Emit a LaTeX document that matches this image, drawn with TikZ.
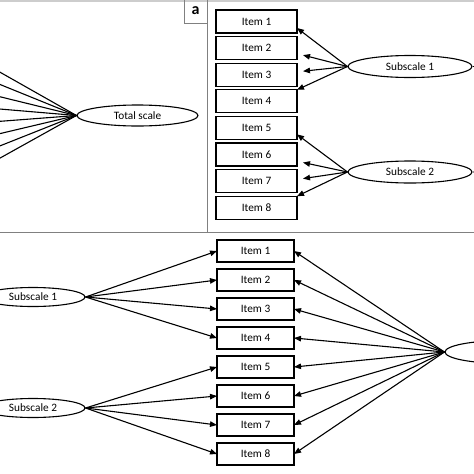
\documentclass[tikz,border=0pt]{standalone}
\usepackage{fontspec}
\setmainfont{Carlito}
\usepackage{xcolor}
\usepackage{tikz}
\usetikzlibrary{positioning, shapes.geometric, arrows.meta}
\definecolor{framegray}{RGB}{128,128,128}
\definecolor{edgegray}{RGB}{205,205,205}

\begin{document}
\begin{tikzpicture}[
  x=1pt, y=-1pt,
  every node/.style={font=\fontsize{11.3}{13}\selectfont},
  item/.style={rectangle, draw, line width=1.1pt, inner sep=0pt, outer sep=0pt,
               minimum width=81pt, minimum height=23pt},
  bitem/.style={item, minimum width=77pt, minimum height=22pt},
  factor/.style={ellipse, draw, line width=1.1pt, inner sep=0pt},
  load/.style={-{Triangle[length=7pt, width=5.5pt]}, line width=1.1pt}
]
  \useasboundingbox (0,0) rectangle (474,474);
  \clip (0,0) rectangle (474,474);

  % frame of the panels
  \draw[edgegray, line width=2pt] (0,1) -- (474,1);
  \draw[framegray, line width=0.8pt] (207,0) -- (207,232);
  \draw[framegray, line width=0.8pt] (0,232) -- (474,232);
  \node[draw=framegray, line width=0.8pt, inner sep=0pt, minimum width=23pt,
        minimum height=24pt, font=\fontsize{16}{18}\selectfont\bfseries]
        (lab) at (195.5,11) {a};

  % top left: one factor
  \node[factor, minimum width=121pt, minimum height=21pt] (tot) at (137.5,115.5) {Total scale};
  \coordinate (l1) at (-30,55.2);
  \coordinate (l2) at (-30,72.3);
  \coordinate (l3) at (-30,89.4);
  \coordinate (l4) at (-30,106.5);
  \coordinate (l5) at (-30,123.6);
  \coordinate (l6) at (-30,140.7);
  \coordinate (l7) at (-30,157.8);
  \coordinate (l8) at (-30,174.8);
  \draw[load] (tot.west) -- (l1);
  \draw[load] (tot.west) -- (l2);
  \draw[load] (tot.west) -- (l3);
  \draw[load] (tot.west) -- (l4);
  \draw[load] (tot.west) -- (l5);
  \draw[load] (tot.west) -- (l6);
  \draw[load] (tot.west) -- (l7);
  \draw[load] (tot.west) -- (l8);

  % top right: two subscales
  \node[item] (t1) at (256.5,21.5) {Item 1};
  \node[item, below=3.6pt of t1] (t2) {Item 2};
  \node[item, below=3.6pt of t2] (t3) {Item 3};
  \node[item, below=3.6pt of t3] (t4) {Item 4};
  \node[item, below=3.6pt of t4] (t5) {Item 5};
  \node[item, below=3.6pt of t5] (t6) {Item 6};
  \node[item, below=3.6pt of t6] (t7) {Item 7};
  \node[item, below=3.6pt of t7] (t8) {Item 8};

  \node[factor, minimum width=124pt, minimum height=22pt] (s1) at (410,66.5) {Subscale 1};
  \node[factor, minimum width=124pt, minimum height=22pt] (s2) at (410,172) {Subscale 2};

  \draw[load] (s1.west) -- ([yshift=5pt]t1.south east);
  \draw[load] (s1.west) -- ([shift={(6pt,-7pt)}]t2.east);
  \draw[load] (s1.west) -- ([shift={(6pt,3.5pt)}]t3.east);
  \draw[load] (s1.west) -- (t4.north east);
  \draw[load] (s2.west) -- ([yshift=5pt]t5.south east);
  \draw[load] (s2.west) -- ([shift={(6pt,-8pt)}]t6.east);
  \draw[load] (s2.west) -- ([shift={(6pt,2.5pt)}]t7.east);
  \draw[load] (s2.west) -- (t8.north east);

  \coordinate (h1) at (495,66.5);
  \coordinate (h2) at (495,172);
  \draw[load] (h1) -- (s1.east);
  \draw[load] (h2) -- (s2.east);

  % bottom: subscales and total scale together
  \node[bitem] (b1) at (255.5,251) {Item 1};
  \node[bitem, below=7pt of b1] (b2) {Item 2};
  \node[bitem, below=7pt of b2] (b3) {Item 3};
  \node[bitem, below=7pt of b3] (b4) {Item 4};
  \node[bitem, below=7pt of b4] (b5) {Item 5};
  \node[bitem, below=7pt of b5] (b6) {Item 6};
  \node[bitem, below=7pt of b6] (b7) {Item 7};
  \node[bitem, below=7pt of b7] (b8) {Item 8};

  \node[factor, minimum width=104pt, minimum height=19pt] (bs1) at (33,297) {Subscale 1};
  \node[factor, minimum width=104pt, minimum height=19pt] (bs2) at (33,408) {Subscale 2};
  \node[factor, minimum width=120pt, minimum height=23pt] (btot) at (505,352) {};

  \draw[load] (bs1.east) -- (b1.west);
  \draw[load] (bs1.east) -- (b2.west);
  \draw[load] (bs1.east) -- (b3.west);
  \draw[load] (bs1.east) -- (b4.west);
  \draw[load] (bs2.east) -- (b5.west);
  \draw[load] (bs2.east) -- (b6.west);
  \draw[load] (bs2.east) -- (b7.west);
  \draw[load] (bs2.east) -- (b8.west);

  \draw[load] (btot.west) -- (b1.east);
  \draw[load] (btot.west) -- (b2.east);
  \draw[load] (btot.west) -- (b3.east);
  \draw[load] (btot.west) -- (b4.east);
  \draw[load] (btot.west) -- (b5.east);
  \draw[load] (btot.west) -- (b6.east);
  \draw[load] (btot.west) -- (b7.east);
  \draw[load] (btot.west) -- (b8.east);
\end{tikzpicture}
\end{document}
